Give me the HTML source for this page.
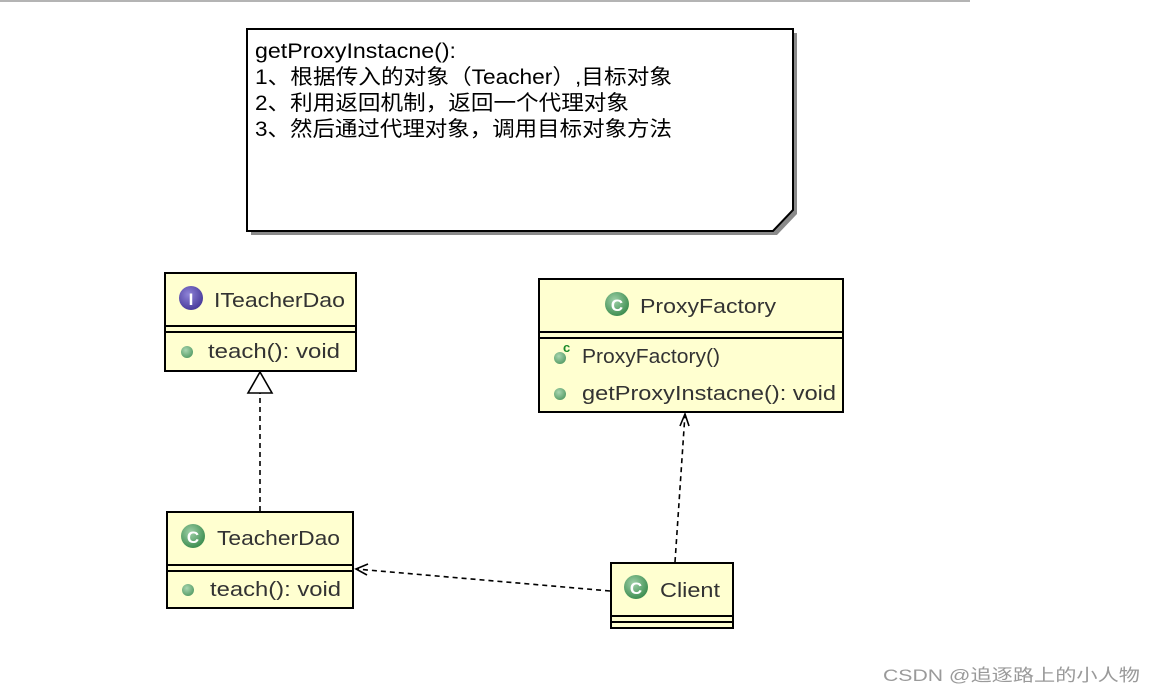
<!DOCTYPE html>
<html><head><meta charset="utf-8"><style>
html,body{margin:0;padding:0;background:#fff;}
svg{display:block;}
text{font-family:"Liberation Sans","Noto Sans CJK SC",sans-serif;}
</style></head><body>
<svg width="1156" height="694" viewBox="0 0 1156 694" xmlns="http://www.w3.org/2000/svg">
<defs>
<radialGradient id="g" cx="40%" cy="35%" r="65%"><stop offset="0" stop-color="#9fd0a8"/><stop offset="1" stop-color="#3f8f52"/></radialGradient>
<radialGradient id="p" cx="40%" cy="35%" r="65%"><stop offset="0" stop-color="#8f84d8"/><stop offset="1" stop-color="#4a3c9c"/></radialGradient>
<radialGradient id="d" cx="40%" cy="35%" r="65%"><stop offset="0" stop-color="#a9d6b1"/><stop offset="1" stop-color="#5a9f6a"/></radialGradient>
</defs>
<rect x="0" y="0" width="970" height="2" fill="#b4b4b4"/>
<path d="M251 33 H797 V214 L777 235 H251 Z" fill="#8a8a8a"/>
<path d="M247 29 H793 V210 L773 231 H247 Z" fill="#fff" stroke="#000" stroke-width="2"/>
<g font-size="21" fill="#000">
<text x="255" y="58" textLength="201" lengthAdjust="spacingAndGlyphs">getProxyInstacne():</text>
<text x="255" y="84" textLength="417" lengthAdjust="spacingAndGlyphs">1、根据传入的对象（Teacher）,目标对象</text>
<text x="255" y="110" textLength="374" lengthAdjust="spacingAndGlyphs">2、利用返回机制，返回一个代理对象</text>
<text x="255" y="136" textLength="417" lengthAdjust="spacingAndGlyphs">3、然后通过代理对象，调用目标对象方法</text>
</g>
<rect x="165" y="273" width="191" height="98" fill="#ffffd0" stroke="#000" stroke-width="2"/>
<line x1="165" y1="326" x2="356" y2="326" stroke="#000" stroke-width="2"/>
<line x1="165" y1="332" x2="356" y2="332" stroke="#000" stroke-width="2"/>
<circle cx="191" cy="298" r="12" fill="url(#p)"/>
<text x="191" y="305" font-size="17" font-weight="bold" fill="#fff" text-anchor="middle">I</text>
<text x="214" y="307" font-size="20" fill="#333" textLength="131" lengthAdjust="spacingAndGlyphs">ITeacherDao</text>
<circle cx="187" cy="352" r="6" fill="url(#d)"/>
<text x="208" y="358" font-size="20" fill="#333" textLength="132" lengthAdjust="spacingAndGlyphs">teach(): void</text>
<rect x="539" y="279" width="304" height="133" fill="#ffffd0" stroke="#000" stroke-width="2"/>
<line x1="539" y1="332" x2="843" y2="332" stroke="#000" stroke-width="2"/>
<line x1="539" y1="338" x2="843" y2="338" stroke="#000" stroke-width="2"/>
<circle cx="617" cy="304" r="12" fill="url(#g)"/>
<text x="617" y="311" font-size="17" font-weight="bold" fill="#fff" text-anchor="middle">C</text>
<text x="640" y="313" font-size="20" fill="#333" textLength="136" lengthAdjust="spacingAndGlyphs">ProxyFactory</text>
<circle cx="560" cy="358" r="6" fill="url(#d)"/>
<text x="563" y="352" font-size="13" font-weight="bold" fill="#1a8a2a">c</text>
<text x="582" y="363" font-size="20" fill="#333" textLength="138" lengthAdjust="spacingAndGlyphs">ProxyFactory()</text>
<circle cx="560" cy="394" r="6" fill="url(#d)"/>
<text x="582" y="400" font-size="20" fill="#333" textLength="254" lengthAdjust="spacingAndGlyphs">getProxyInstacne(): void</text>
<rect x="167" y="512" width="186" height="96" fill="#ffffd0" stroke="#000" stroke-width="2"/>
<line x1="167" y1="565" x2="353" y2="565" stroke="#000" stroke-width="2"/>
<line x1="167" y1="571" x2="353" y2="571" stroke="#000" stroke-width="2"/>
<circle cx="193" cy="536" r="12" fill="url(#g)"/>
<text x="193" y="543" font-size="17" font-weight="bold" fill="#fff" text-anchor="middle">C</text>
<text x="217" y="545" font-size="20" fill="#333" textLength="123" lengthAdjust="spacingAndGlyphs">TeacherDao</text>
<circle cx="188" cy="590" r="6" fill="url(#d)"/>
<text x="210" y="596" font-size="20" fill="#333" textLength="131" lengthAdjust="spacingAndGlyphs">teach(): void</text>
<rect x="611" y="563" width="122" height="65" fill="#ffffd0" stroke="#000" stroke-width="2"/>
<line x1="611" y1="616" x2="733" y2="616" stroke="#000" stroke-width="2"/>
<line x1="611" y1="622" x2="733" y2="622" stroke="#000" stroke-width="2"/>
<circle cx="636" cy="587" r="12" fill="url(#g)"/>
<text x="636" y="594" font-size="17" font-weight="bold" fill="#fff" text-anchor="middle">C</text>
<text x="660" y="597" font-size="20" fill="#333" textLength="60" lengthAdjust="spacingAndGlyphs">Client</text>
<g stroke="#000" stroke-width="1.6" fill="none">
<line x1="260" y1="511" x2="260" y2="393" stroke-dasharray="5,4"/>
<path d="M260 372 L272 393 H248 Z" fill="#fff"/>
<line x1="675" y1="562" x2="685" y2="414" stroke-dasharray="5,4"/>
<path d="M680 426 L685 414 L689 426"/>
<line x1="610" y1="591" x2="356" y2="569" stroke-dasharray="5,4"/>
<path d="M368 564 L356 569 L367 575"/>
</g>
<text x="883" y="681" font-size="17" fill="#9a9a9a" textLength="257" lengthAdjust="spacingAndGlyphs">CSDN @追逐路上的小人物</text>
</svg>
</body></html>
